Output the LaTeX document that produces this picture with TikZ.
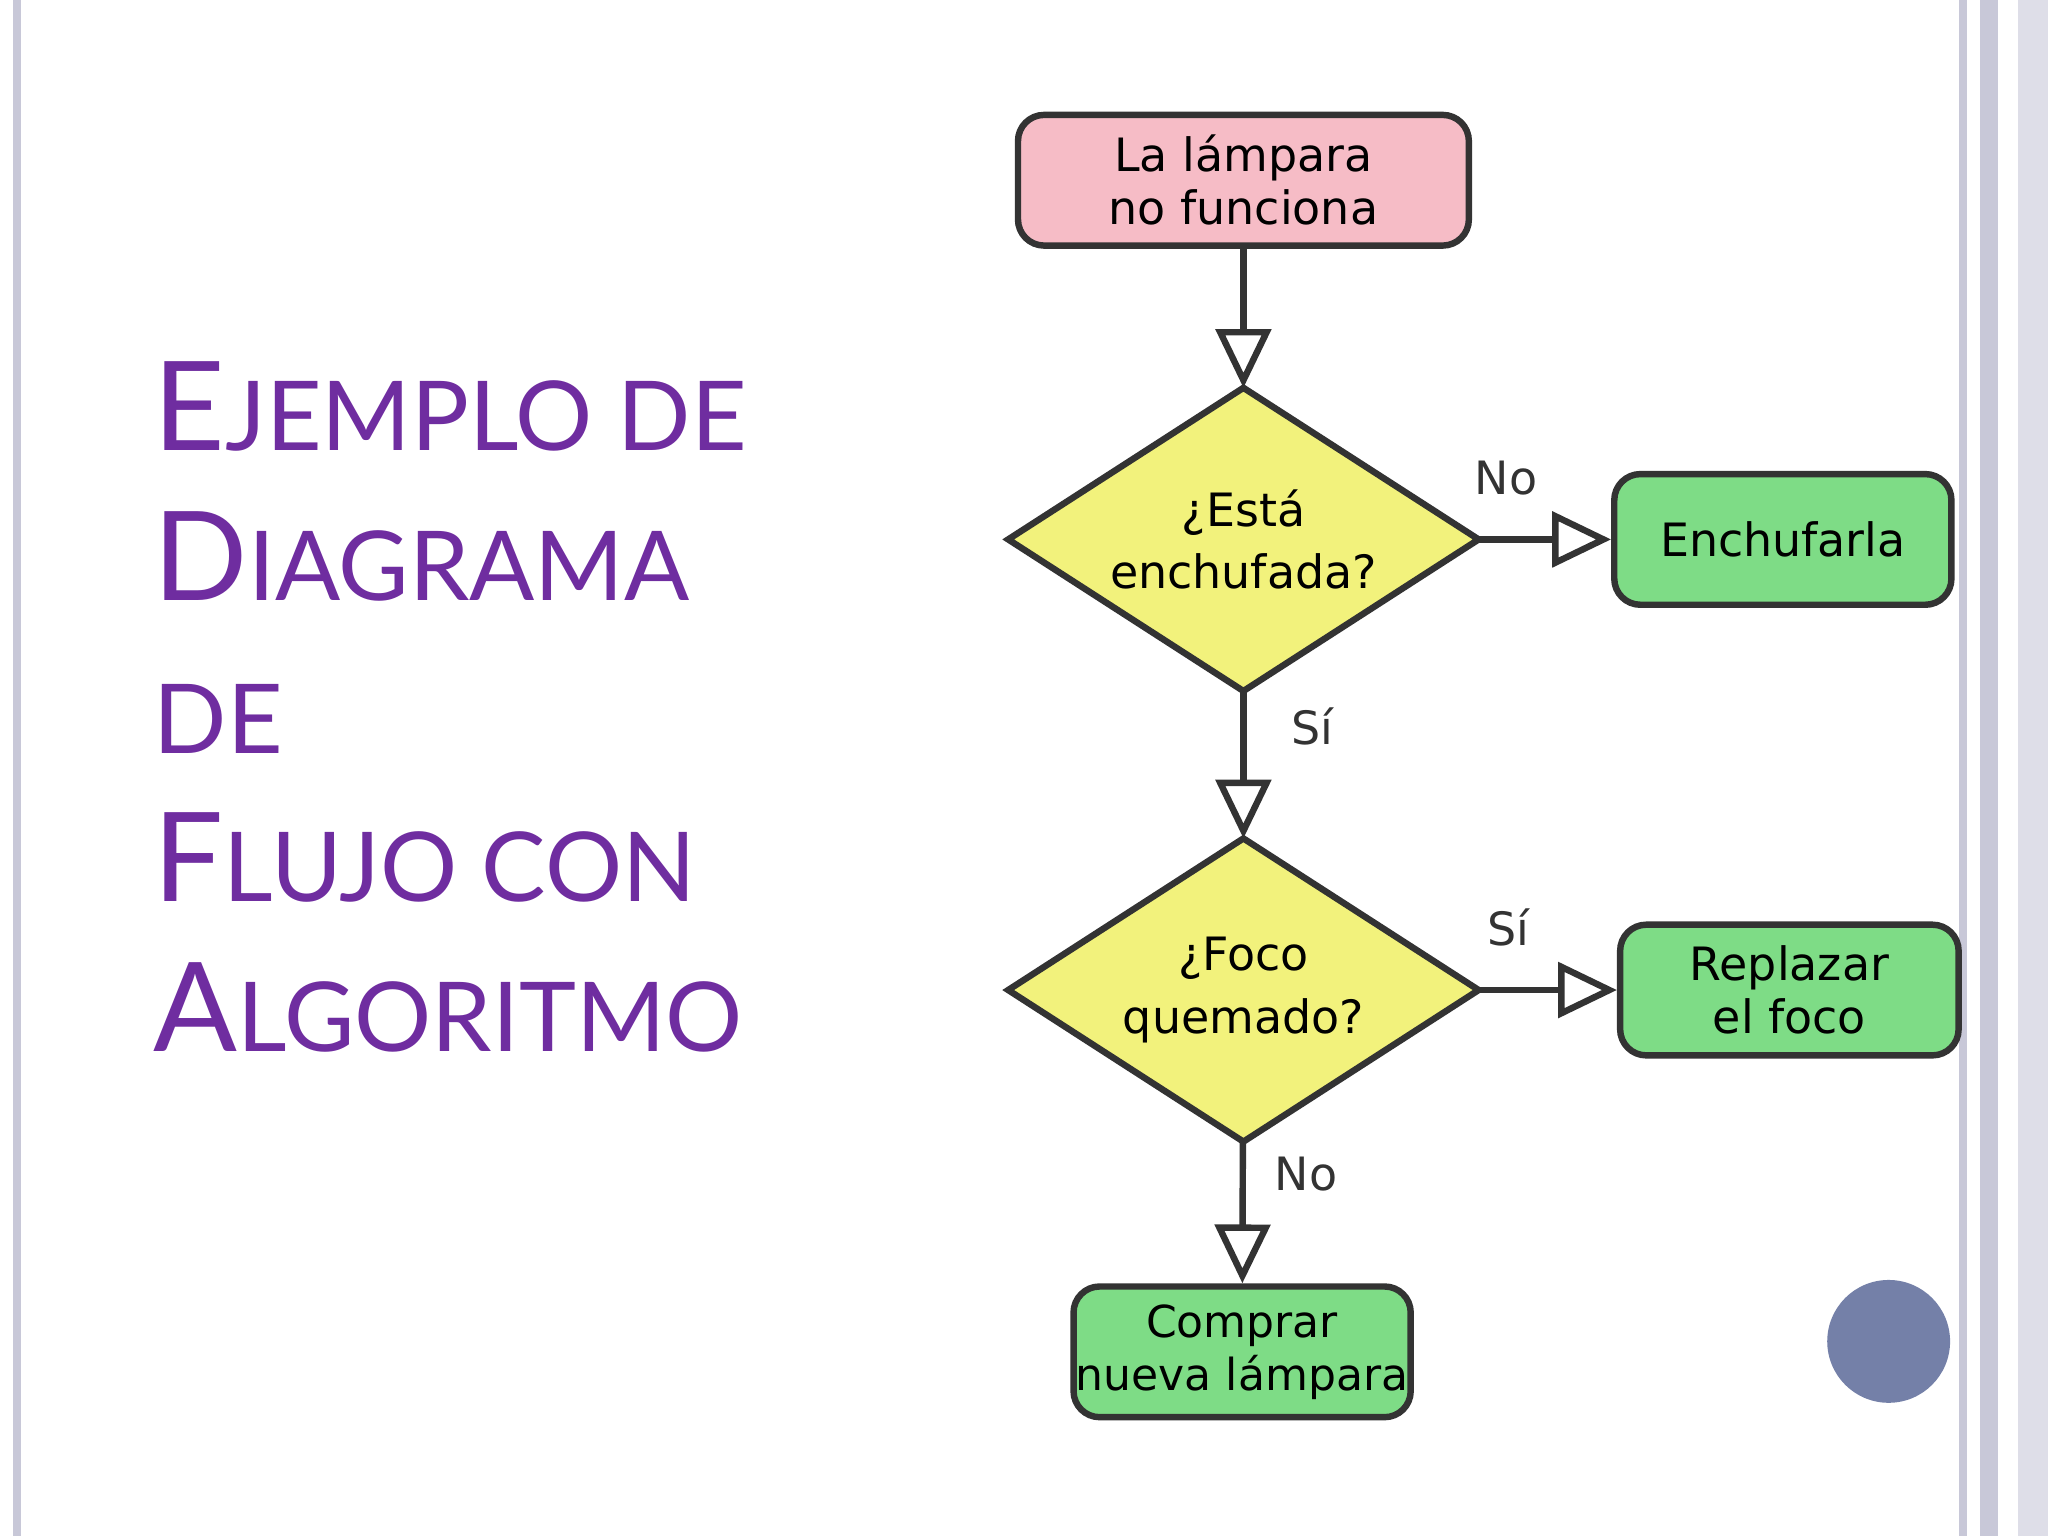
\documentclass[tikz,border=0pt]{standalone}
\usepackage{fontspec}
\setmainfont{DejaVu Sans}
\newfontfamily\titlefont{Lato}
\usetikzlibrary{shapes.geometric,arrows.meta}
\definecolor{ttl}{HTML}{6F2DA0}
\definecolor{pinkb}{HTML}{F6BCC6}
\definecolor{yelb}{HTML}{F2F27C}
\definecolor{grnb}{HTML}{7EDC86}
\definecolor{edge}{HTML}{333333}
\definecolor{dot}{HTML}{7480A8}
\definecolor{bar}{HTML}{C8C8D8}
\newcommand\tsc[2]{{\fontsize{27}{27}\selectfont #1}{\fontsize{21}{21}\selectfont #2}}
\begin{document}
\begin{tikzpicture}[x=0.01cm,y=-0.01cm,
  box/.style={draw=edge,line width=1.4pt,rounded corners=0.2cm,inner sep=0pt,align=center,font=\fontsize{10}{11.5}\selectfont},
  dia/.style={diamond,draw=edge,line width=1.4pt,inner sep=0pt,outer sep=0pt,shape aspect=1.556,fill=yelb,align=center,font=\fontsize{10}{13.5}\selectfont,minimum width=3.6cm,minimum height=2.32cm},
  flow/.style={draw=edge,line width=1.4pt,-{Triangle[open,length=0.45cm,width=0.42cm,fill=white]}},
  lbl/.style={font=\fontsize{10}{12}\selectfont,text=edge},
  tt/.style={anchor=base west,inner sep=0pt,text=ttl,font=\titlefont}]
\fill[white] (0,0) rectangle (1568,1176);
\useasboundingbox (0,0) rectangle (1568,1176);
\fill[bar] (10,0) rectangle (16,1176);
\fill[bar] (1500,0) rectangle (1506,1176);
\fill[bar] (1516,0) rectangle (1530,1176);
\fill[bar!60] (1545,0) rectangle (1568,1176);
\fill[dot] (1446,1027) circle (0.47cm);
\node[tt] (t1) at (117,345) {\tsc{E}{JEMPLO DE}};
\node[tt] (t2) at (117,460) {\tsc{D}{IAGRAMA}};
\node[tt] (t3) at (117,577) {\tsc{}{DE}};
\node[tt] (t4) at (117,690) {\tsc{F}{LUJO CON}};
\node[tt] (t5) at (117,805) {\tsc{A}{LGORITMO}};
\node[box,fill=pinkb,minimum width=3.45cm,minimum height=1.0cm] (start) at (952,138) {La lámpara\\no funciona};
\node[dia] (d1) at (952,413) {¿Está\\enchufada?};
\node[box,fill=grnb,minimum width=2.58cm,minimum height=1.0cm] (enc) at (1365,413) {Enchufarla};
\node[dia] (d2) at (952,758) {¿Foco\\quemado?};
\node[box,fill=grnb,minimum width=2.59cm,minimum height=1.0cm] (rep) at (1370,758) {Replazar\\el foco};
\node[box,fill=grnb,minimum width=2.58cm,minimum height=1.0cm,font=\fontsize{9.6}{11.5}\selectfont] (comp) at (951,1035) {Comprar\\nueva lámpara};
\draw[flow] (start) -- (d1);
\draw[flow] (d1) -- (enc);
\draw[flow] (d1) -- (d2);
\draw[flow] (d2) -- (rep);
\draw[flow] (d2) -- (comp);
\node[lbl] (l1) at (1153,366) {No};
\node[lbl] (l2) at (1005,556) {Sí};
\node[lbl] (l3) at (1155,710) {Sí};
\node[lbl] (l4) at (1000,899) {No};
\end{tikzpicture}
\end{document}
